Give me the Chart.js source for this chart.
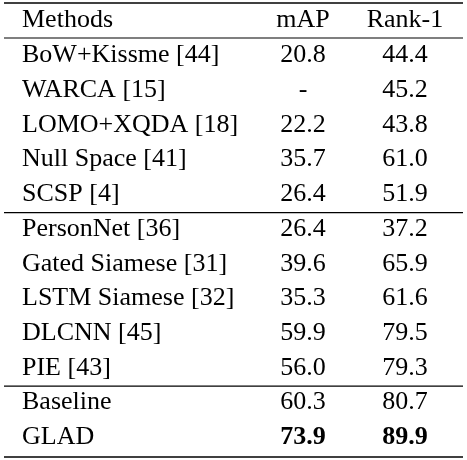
<!DOCTYPE html>
<html>
<head>
  <meta charset="UTF-8">
  <title>Methods comparison</title>
  <script src="https://cdn.jsdelivr.net/npm/chart.js"></script>
  <style>
    body { margin: 0; background: #fff; }
    #wrap { width: 467px; height: 460px; }
  </style>
</head>
<body>
  <div id="wrap"><canvas id="tableChart" width="467" height="460"></canvas></div>
  <script>
    // table contents
    const headers = ['Methods', 'mAP', 'Rank-1'];
    const methods = ['BoW+Kissme [44]', 'WARCA [15]', 'LOMO+XQDA [18]', 'Null Space [41]', 'SCSP [4]',
                     'PersonNet [36]', 'Gated Siamese [31]', 'LSTM Siamese [32]', 'DLCNN [45]', 'PIE [43]',
                     'Baseline', 'GLAD'];
    const mapVals = [20.8, null, 22.2, 35.7, 26.4, 26.4, 39.6, 35.3, 59.9, 56.0, 60.3, 73.9];
    const rank1Vals = [44.4, 45.2, 43.8, 61.0, 51.9, 37.2, 65.9, 61.6, 79.5, 79.3, 80.7, 89.9];
    const groupEnds = [4, 9]; // rule after these row indexes

    // data-space layout (x: 0..467, y: 0..460)
    const colX = [22, 303, 405];
    const rowY = i => 55.5 + 34.7 * i;
    const font = '26px "Liberation Serif", "DejaVu Serif", serif';

    const tablePlugin = {
      id: 'tableDraw',
      afterDraw(chart) {
        const ctx = chart.ctx, xs = chart.scales.x, ys = chart.scales.y;
        const X = v => xs.getPixelForValue(v), Y = v => ys.getPixelForValue(v);
        ctx.save();
        ctx.fillStyle = '#000';
        ctx.strokeStyle = '#000';
        ctx.textBaseline = 'middle';
        const rule = (y, w) => {
          ctx.lineWidth = w;
          ctx.beginPath(); ctx.moveTo(X(4), Y(y)); ctx.lineTo(X(463), Y(y)); ctx.stroke();
        };
        rule(3, 1.5); rule(38, 1.2); rule(457, 1.5);
        groupEnds.forEach(i => rule((rowY(i) + rowY(i + 1)) / 2 + 1, 1.2));

        const maxMap = Math.max(...mapVals.filter(v => v !== null));
        const maxRank = Math.max(...rank1Vals);
        const fmt = v => v === null ? '-' : v.toFixed(1);

        ctx.font = font;
        ctx.textAlign = 'left';
        ctx.fillText(headers[0], X(colX[0]), Y(20));
        ctx.textAlign = 'center';
        ctx.fillText(headers[1], X(colX[1]), Y(20));
        ctx.fillText(headers[2], X(colX[2]), Y(20));

        methods.forEach((m, i) => {
          const y = Y(rowY(i));
          ctx.font = font;
          ctx.textAlign = 'left';
          ctx.fillText(m, X(colX[0]), y);
          ctx.textAlign = 'center';
          ctx.font = (mapVals[i] === maxMap ? 'bold ' : '') + font;
          ctx.fillText(fmt(mapVals[i]), X(colX[1]), y);
          ctx.font = (rank1Vals[i] === maxRank ? 'bold ' : '') + font;
          ctx.fillText(fmt(rank1Vals[i]), X(colX[2]), y);
        });
        ctx.restore();
      }
    };

    new Chart(document.getElementById('tableChart'), {
      type: 'scatter',
      data: { datasets: [{ data: [] }] },
      options: {
        responsive: false,
        animation: false,
        layout: { padding: 0 },
        plugins: { legend: { display: false }, tooltip: { enabled: false } },
        scales: {
          x: { type: 'linear', min: 0, max: 467, display: false },
          y: { type: 'linear', min: 0, max: 460, reverse: true, display: false }
        }
      },
      plugins: [tablePlugin]
    });
  </script>
</body>
</html>
